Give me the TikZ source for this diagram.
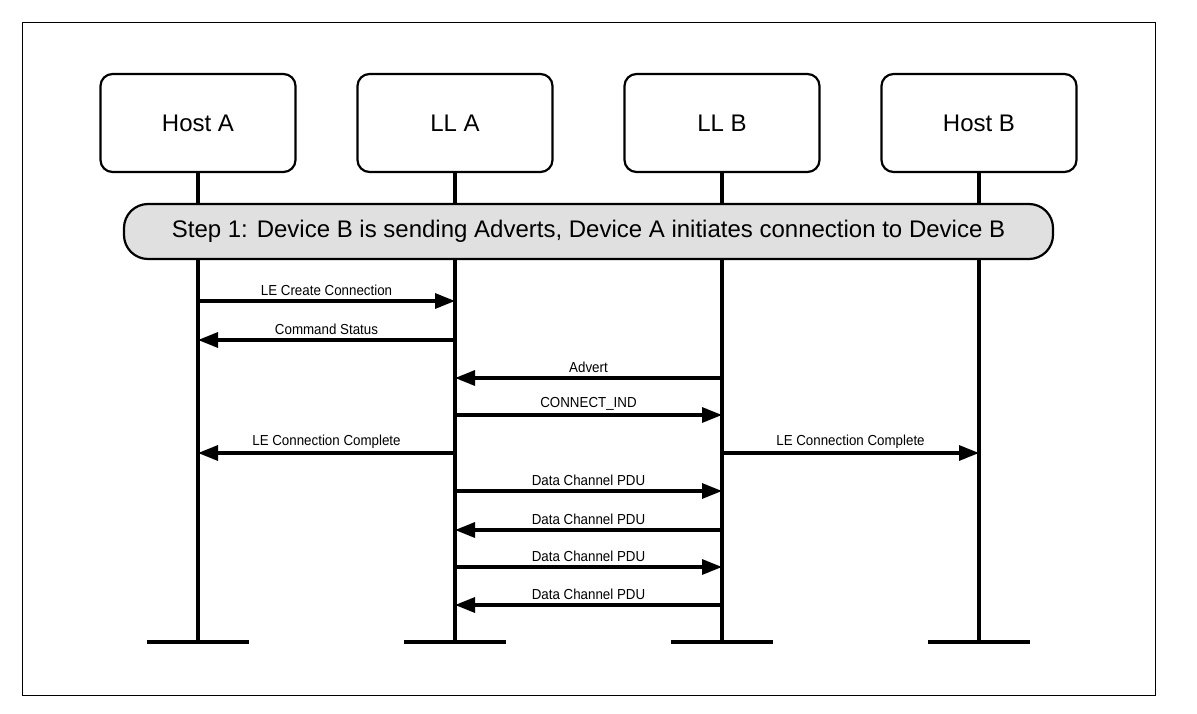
\documentclass[tikz,border=0pt]{standalone}
\usepackage{fontspec}
\setmainfont{Liberation Sans}
\usetikzlibrary{arrows.meta}
\begin{document}
\begin{tikzpicture}[x=1pt,y=-1pt,
  ent/.style={draw,line width=2.2pt,rounded corners=12pt,minimum width=195pt,minimum height=98pt,font=\fontsize{24}{28}\selectfont},
  life/.style={line width=4pt},
  bar/.style={line width=4.5pt},
  msg/.style={line width=3.2pt,-{Triangle[length=20pt,width=15pt]}},
  lbl/.style={font=\fontsize{14.5}{17}\selectfont,xscale=0.92,above=0pt}]
\useasboundingbox (0,0) rectangle (1197,714);
\draw[line width=0.8pt] (22,22) rectangle (1155,695);
\foreach \n/\x/\t in {ha/198/Host A,la/455/LL A,lb/722/LL B,hb/979/Host B}{
  \node[ent] (\n) at (\x,123) {\t};
  \coordinate (\n e) at (\x,642);
  \draw[life] (\n.south) -- (\n e);
  \draw[bar] ([xshift=-51pt]\n e) -- ([xshift=51pt]\n e);
}
\node[draw,line width=2.2pt,fill=black!12,rounded corners=24pt,minimum width=929pt,minimum height=55pt,font=\fontsize{24}{28}\selectfont] (step) at (588.5,231.5) {Step 1: Device B is sending Adverts, Device A initiates connection to Device B};
\foreach \a/\b/\y/\t in {ha/la/301/LE Create Connection, la/ha/340/Command Status, lb/la/378/Advert, la/lb/415/CONNECT\_IND, la/ha/453/LE Connection Complete, lb/hb/453/LE Connection Complete, la/lb/491/Data Channel PDU, lb/la/530/Data Channel PDU, la/lb/567/Data Channel PDU, lb/la/605/Data Channel PDU}{
  \path (\a e |- 0,\y) coordinate (s) (\b e |- 0,\y) coordinate (t);
  \draw[msg] (s) -- (t) node[midway,lbl] {\t};
}
\end{tikzpicture}
\end{document}
